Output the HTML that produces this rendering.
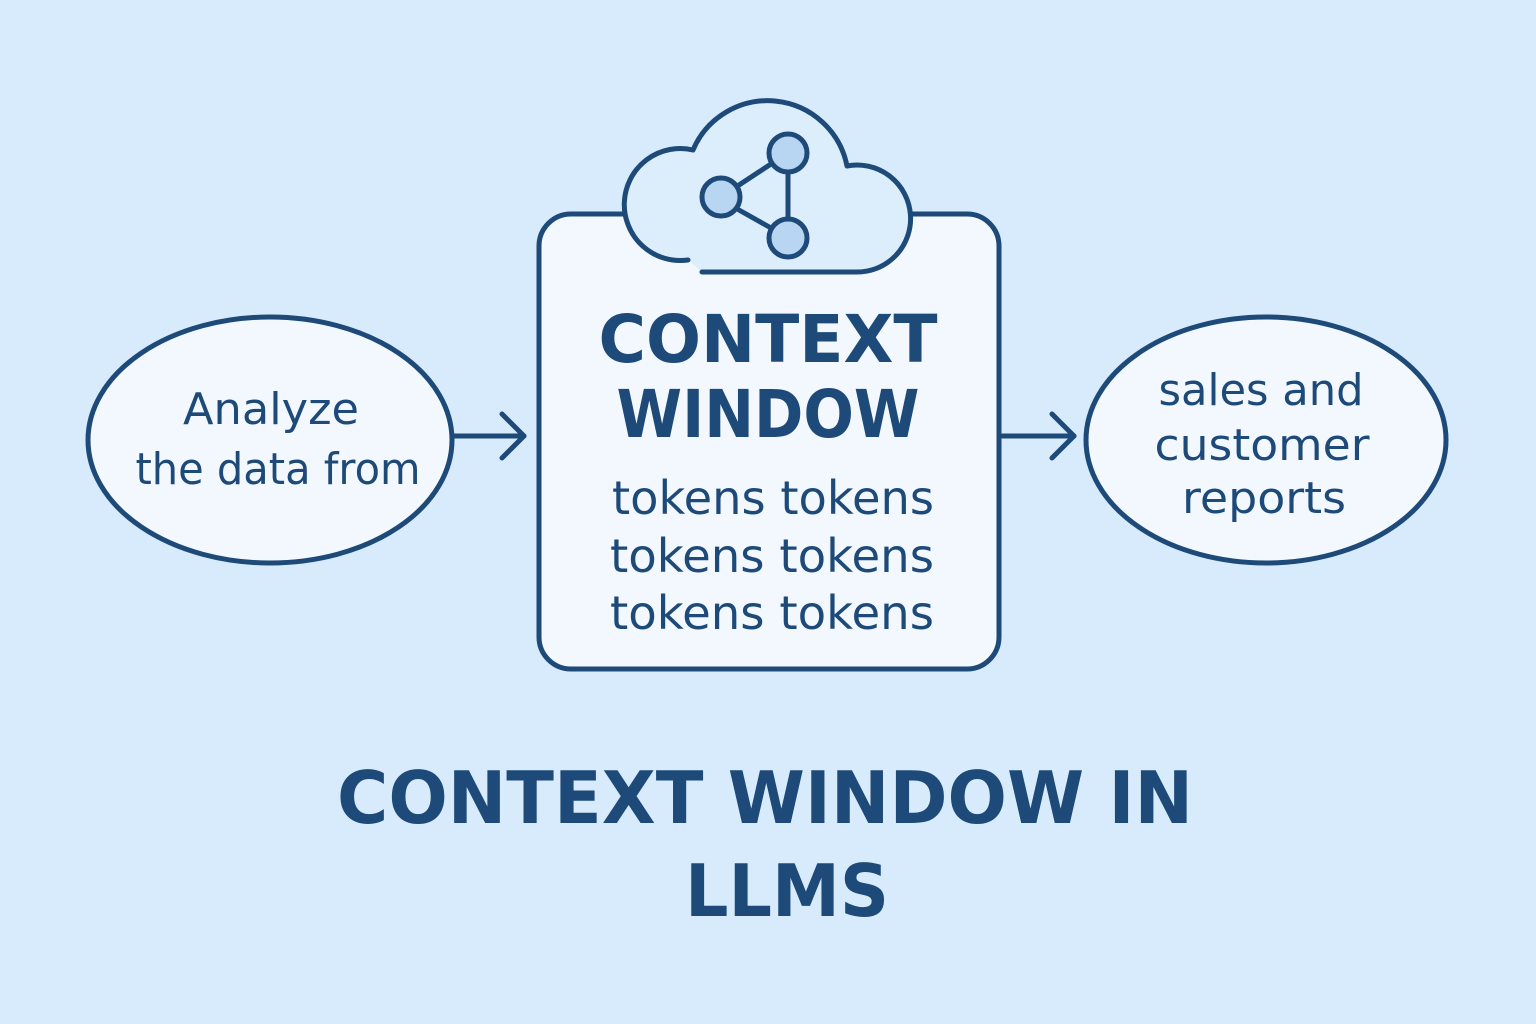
<!DOCTYPE html>
<html><head><meta charset="utf-8"><style>
html,body{margin:0;padding:0;background:#d8ebfc;}
svg{display:block}
text{font-family:"DejaVu Sans","Liberation Sans",sans-serif;fill:#1d4a78}
</style></head><body>
<svg width="1536" height="1024" viewBox="0 0 1536 1024" xmlns="http://www.w3.org/2000/svg">
<rect width="1536" height="1024" fill="#d8ebfc"/>
<g stroke="#1d4a78" stroke-width="5" fill="none" stroke-linecap="round" stroke-linejoin="round">
<rect x="539" y="214" width="460" height="455" rx="32" fill="#f2f8fe"/>
<path d="M702,272 L688,260 A56,56 0 1 1 693,150 A81,81 0 0 1 847,166 A53.5,53.5 0 1 1 855,272 Z" fill="#dcedfc" stroke="none"/>
<path d="M688,260 A56,56 0 1 1 693,150 A81,81 0 0 1 847,166 A53.5,53.5 0 1 1 855,272 L702,272"/>
<line x1="739" y1="185" x2="771" y2="164"/>
<line x1="739" y1="210" x2="771" y2="228"/>
<line x1="788" y1="172" x2="788" y2="219"/>
<circle cx="721" cy="197" r="19" fill="#b8d6f2"/>
<circle cx="788" cy="153" r="19" fill="#b8d6f2"/>
<circle cx="788" cy="238" r="19" fill="#b8d6f2"/>
<ellipse cx="270" cy="440" rx="182" ry="123" fill="#f2f8fe"/>
<ellipse cx="1266" cy="440" rx="180" ry="123" fill="#f2f8fe"/>
<line x1="452" y1="436" x2="524" y2="436"/>
<polyline points="502,414 524,436 502,458"/>
<line x1="1002" y1="436" x2="1074" y2="436"/>
<polyline points="1052,414 1074,436 1052,458"/>
</g>
<g text-anchor="middle">
<text x="271" y="424" font-size="44" textLength="176" lengthAdjust="spacingAndGlyphs">Analyze</text>
<text x="278" y="484" font-size="44" textLength="285" lengthAdjust="spacingAndGlyphs">the data from</text>
<text x="1261" y="405" font-size="44" textLength="205" lengthAdjust="spacingAndGlyphs">sales and</text>
<text x="1262" y="460" font-size="44" textLength="215" lengthAdjust="spacingAndGlyphs">customer</text>
<text x="1264" y="513" font-size="44" textLength="164" lengthAdjust="spacingAndGlyphs">reports</text>
<text x="768" y="362" font-size="66" font-weight="bold" textLength="339" lengthAdjust="spacingAndGlyphs">CONTEXT</text>
<text x="768" y="437" font-size="66" font-weight="bold" textLength="303" lengthAdjust="spacingAndGlyphs">WINDOW</text>
<text x="773" y="514" font-size="46" textLength="322" lengthAdjust="spacingAndGlyphs">tokens tokens</text>
<text x="772" y="572" font-size="46" textLength="324" lengthAdjust="spacingAndGlyphs">tokens tokens</text>
<text x="772" y="629" font-size="46" textLength="324" lengthAdjust="spacingAndGlyphs">tokens tokens</text>
<text x="765" y="823" font-size="72" font-weight="bold" textLength="856" lengthAdjust="spacingAndGlyphs">CONTEXT WINDOW IN</text>
<text x="787" y="916" font-size="72" font-weight="bold" textLength="204" lengthAdjust="spacingAndGlyphs">LLMS</text>
</g>
</svg>
</body></html>
